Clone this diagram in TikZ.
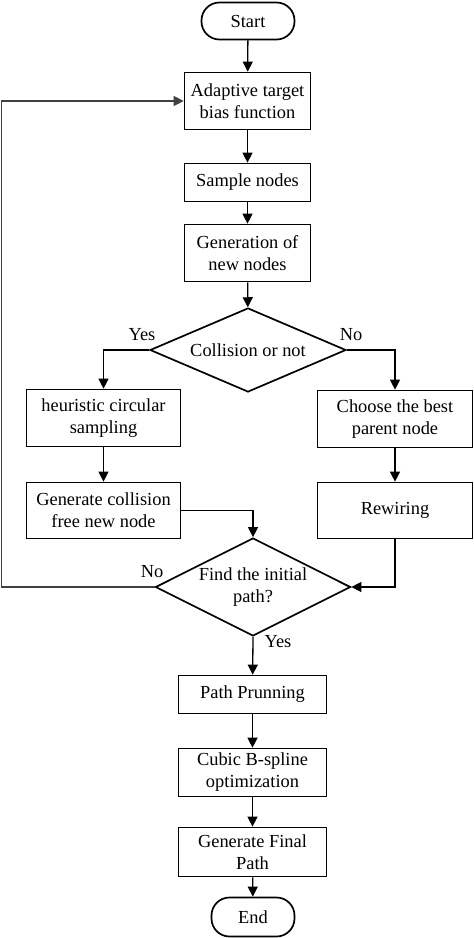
\documentclass[tikz,border=0pt]{standalone}
\usepackage{fontspec}
\setmainfont{Liberation Serif}
\usetikzlibrary{arrows.meta,shapes.geometric}
\begin{document}
\begin{tikzpicture}[x={(1pt,0)},y={(0,-1pt)},
  every node/.style={font=\fontsize{18.4}{22}\selectfont},
  box/.style={draw, line width=1.7pt, inner sep=0pt, align=center},
  term/.style={box, rounded corners=18pt},
  dia/.style={draw, line width=1.7pt, diamond, inner sep=0pt, align=center},
  arr/.style={line width=1.3pt, -{Triangle[length=10pt,width=10pt]}},
  lbl/.style={inner sep=0pt},
  fb/.style={line width=1.1pt, draw=black!75, -{Triangle[length=10pt,width=10pt]}}]
\useasboundingbox (0,0) rectangle (474,938);
\node[term, minimum width=93pt, minimum height=37pt] (start) at (248,21) {Start};
\node[box, minimum width=126pt, minimum height=57pt] (adapt) at (247.5,101) {Adaptive target\\bias function};
\node[box, minimum width=126pt, minimum height=38pt] (sample) at (247.5,182.5) {Sample nodes};
\node[box, minimum width=126pt, minimum height=57pt] (gen) at (247.5,253) {Generation of\\new nodes};
\node[dia, minimum width=196pt, minimum height=84pt, aspect=2.33] (coll) at (248,350) {Collision or not};
\node[box, minimum width=154pt, minimum height=57pt] (heur) at (103.5,418) {heuristic circular\\sampling};
\node[box, minimum width=155pt, minimum height=57pt] (choose) at (395,419) {Choose the best\\parent node};
\node[box, minimum width=154pt, minimum height=56pt] (gcf) at (103.5,510.5) {Generate collision\\free new node};
\node[box, minimum width=155pt, minimum height=56pt] (rew) at (395,510.5) {Rewiring};
\node[dia, minimum width=195pt, minimum height=98pt, aspect=2] (find) at (253,587) {Find the initial\\path?};
\node[box, minimum width=148pt, minimum height=38pt] (prune) at (252.5,694.5) {Path Prunning};
\node[box, minimum width=148pt, minimum height=48pt] (cubic) at (252.5,772.5) {Cubic B-spline\\optimization};
\node[box, minimum width=148pt, minimum height=49pt] (gfinal) at (252.5,852) {Generate Final\\Path};
\node[term, minimum width=83pt, minimum height=39pt] (end) at (253,917) {End};
\coordinate (fbc) at (1.5,587);
\node[lbl] (yes1) at (142,335) {Yes};
\node[lbl] (no1) at (351,335) {No};
\node[lbl] (no2) at (152,572) {No};
\node[lbl] (yes2) at (278,642) {Yes};
\draw[arr] (start) -- (adapt);
\draw[arr] (adapt) -- (sample);
\draw[arr] (sample) -- (gen);
\draw[arr] (gen) -- (coll);
\draw[arr] (coll.west) -| (heur.north);
\draw[arr] (coll.east) -| (choose.north);
\draw[arr] (heur) -- (gcf);
\draw[arr] (choose) -- (rew);
\draw[arr] (gcf.east) -| (find.north);
\draw[arr] (rew.south) |- (find.east);
\draw[fb] (find.west) -- (fbc) |- (adapt.west);
\draw[arr] (find.south) -- (prune);
\draw[arr] (prune) -- (cubic);
\draw[arr] (cubic) -- (gfinal);
\draw[arr] (gfinal) -- (end);
\end{tikzpicture}
\end{document}
